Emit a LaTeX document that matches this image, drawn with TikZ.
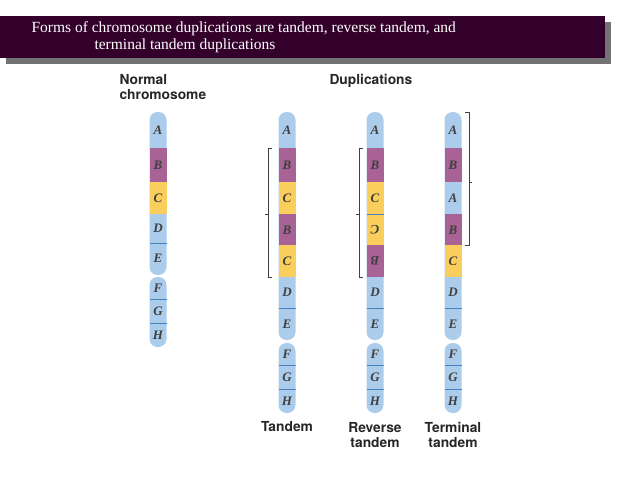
\documentclass[tikz,border=0pt]{standalone}
\usepackage{fontspec}
\setmainfont{Liberation Serif}
\newfontfamily\heros{TeX Gyre Heros}
\definecolor{banner}{RGB}{50,0,42}
\definecolor{chrblue}{RGB}{172,204,236}
\definecolor{chrpurple}{RGB}{168,98,150}
\definecolor{chryellow}{RGB}{250,206,92}
\definecolor{chrline}{RGB}{70,130,190}
\tikzset{
  seglabel/.style={font=\fontsize{13}{13}\selectfont\bfseries\itshape, text=black!75},
  caption/.style={font=\fontsize{13.8}{14.5}\selectfont\heros\bfseries, align=center, text=black!85},
  bracket/.style={draw=black!75, line width=0.9pt},
}
% one arm of a chromosome: x, top, bottom
\newcommand{\chrarm}[3]{%
  \fill[chrblue, rounded corners=8pt] (#1-8.5,#2) rectangle (#1+8.5,#3);
}
\begin{document}
\begin{tikzpicture}[x=1pt,y=1pt]
\useasboundingbox (0,0) rectangle (638,-479);

% title banner
\fill[black!55] (6,-22) rectangle (611,-64);
\fill[banner] (0,-16) rectangle (605,-58);
\node[text=white, font=\fontsize{15.5}{17}\selectfont, anchor=west, align=left] (title) at (28,-37)
  {Forms of chromosome duplications are tandem, reverse tandem, and\\
   \hspace{63pt}terminal tandem duplications};

% headings
\node[caption, align=left, anchor=north west] (normal) at (116,-71) {Normal\\chromosome};
\node[caption, anchor=north west] (dup) at (326,-71) {Duplications};

% normal chromosome
\chrarm{158}{-112}{-275}
\chrarm{158}{-277}{-347}
\fill[chrpurple] (149.5,-148) rectangle (166.5,-182);
\fill[chryellow] (149.5,-182) rectangle (166.5,-214);
\foreach \y in {-243,-299,-323}
  \draw[chrline, line width=0.7pt] (149.5,\y) -- (166.5,\y);
\foreach \l/\y in {A/-130,B/-165,C/-198,D/-228,E/-258,F/-288,G/-311,H/-335}
  \node[seglabel] (n\l) at (158,\y) {\l};

% tandem
\chrarm{287}{-112}{-340}
\chrarm{287}{-343}{-413}
\fill[chrpurple] (278.5,-148) rectangle (295.5,-182);
\fill[chryellow] (278.5,-182) rectangle (295.5,-214);
\fill[chrpurple] (278.5,-214) rectangle (295.5,-245);
\fill[chryellow] (278.5,-245) rectangle (295.5,-277);
\foreach \y in {-308,-365,-389}
  \draw[chrline, line width=0.7pt] (278.5,\y) -- (295.5,\y);
\foreach \l/\t/\y in {A/A/-130,B/B/-165,C/C/-198,b/B/-230,c/C/-261,D/D/-292,E/E/-324,F/F/-354,G/G/-377,H/H/-401}
  \node[seglabel] (t\l) at (287,\y) {\t};
\draw[bracket] (272,-148) -- (268,-148) -- (268,-277) -- (272,-277);
\draw[bracket] (268,-214) -- (265,-214);
\node[caption] (tandem) at (287,-427) {Tandem};

% reverse tandem
\chrarm{375}{-112}{-340}
\chrarm{375}{-343}{-413}
\fill[chrpurple] (366.5,-148) rectangle (383.5,-182);
\fill[chryellow] (366.5,-182) rectangle (383.5,-245);
\fill[chrpurple] (366.5,-245) rectangle (383.5,-277);
\draw[chrline, line width=0.5pt] (366.5,-214) -- (383.5,-214);
\foreach \y in {-308,-365,-389}
  \draw[chrline, line width=0.7pt] (366.5,\y) -- (383.5,\y);
\foreach \l/\t/\y in {A/A/-130,B/B/-165,C/C/-198,D/D/-292,E/E/-324,F/F/-354,G/G/-377,H/H/-401}
  \node[seglabel] (r\l) at (375,\y) {\t};
\node[seglabel, rotate=180] (rc) at (375,-230) {C};
\node[seglabel, rotate=180] (rb) at (375,-261) {B};
\draw[bracket] (363,-148) -- (359,-148) -- (359,-277) -- (363,-277);
\draw[bracket] (359,-214) -- (356,-214);
\node[caption] (reverse) at (375,-435) {Reverse\\tandem};

% terminal tandem
\chrarm{453}{-112}{-340}
\chrarm{453}{-343}{-413}
\fill[chrpurple] (444.5,-148) rectangle (461.5,-182);
\fill[chrpurple] (444.5,-214) rectangle (461.5,-245);
\fill[chryellow] (444.5,-245) rectangle (461.5,-277);
\foreach \y in {-308,-365,-389}
  \draw[chrline, line width=0.7pt] (444.5,\y) -- (461.5,\y);
\foreach \l/\t/\y in {A/A/-130,B/B/-165,a/A/-198,b/B/-230,C/C/-261,D/D/-292,E/E/-324,F/F/-354,G/G/-377,H/H/-401}
  \node[seglabel] (e\l) at (453,\y) {\t};
\draw[bracket] (465,-112) -- (469,-112) -- (469,-245) -- (465,-245);
\draw[bracket] (469,-182) -- (472,-182);
\node[caption] (terminal) at (453,-435) {Terminal\\tandem};
\end{tikzpicture}
\end{document}
